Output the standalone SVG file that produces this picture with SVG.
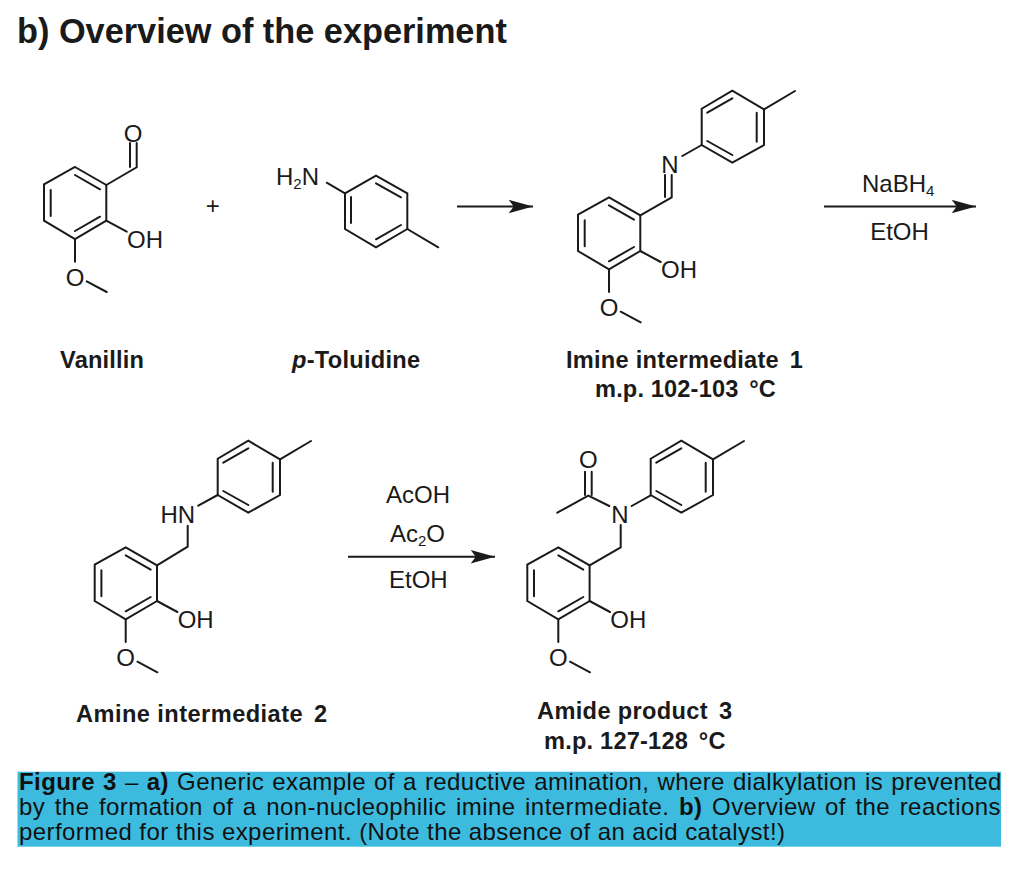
<svg xmlns="http://www.w3.org/2000/svg" xmlns:xlink="http://www.w3.org/1999/xlink" width="1024" height="877" viewBox="0 0 1024 877">
<style>
text{font-family:"Liberation Sans",Arial,sans-serif;fill:#1a1a1a}
.b{fill:none;stroke:#1a1a1a;stroke-width:2;stroke-linecap:round;stroke-linejoin:miter}
.a{font-size:24px}
.s{font-size:15px}
.l{font-size:23.6px;font-weight:bold}
.c{font-size:24px;fill:#111;letter-spacing:.43px}
.m{text-anchor:middle}
.arrow{fill:none;stroke:#1a1a1a;stroke-width:2}
</style>
<defs>
<marker id="head" markerUnits="userSpaceOnUse" markerWidth="26" markerHeight="14" refX="26" refY="7" orient="auto">
<path d="M26 7L1.7 .3L6.7 7L1.7 13.7Z" fill="#1a1a1a"/>
</marker>
<g id="guaiacol">
<path class="b" d="M75 167L106.3 185V220.7L75 239L44 220.7V184.3Z"/>
<path class="b" d="M75 175L100 189.3M100 216.7L75 231M50.7 190V216M106.3 220.7L126.7 231.7M75 239V261.7M86.7 281.4L106.7 292"/>
<text class="a" x="127" y="248">OH</text>
<text class="a m" x="75" y="285.5">O</text>
</g>
<g id="tolyl">
<path class="b" d="M701.7 145V108.7L732.3 90.7L764 109.3V145L732.3 162.7Z"/>
<path class="b" d="M707.3 112.7L732.3 98.3M756.7 112.7V141.7M707.3 141L732.3 155M764 109.3L795 91"/>
</g>
</defs>
<rect width="1024" height="877" fill="#fff"/>
<text id="title" x="17" y="42.5" font-size="34.3" font-weight="bold">b) Overview of the experiment</text>

<g id="vanillin">
<use xlink:href="#guaiacol" href="#guaiacol"/>
<path class="b" d="M106.3 185L136.7 167.3L136.7 143M130 167V143"/>
<text class="a m" x="133" y="141.5">O</text>
<text class="l m" x="102" y="368" textLength="84">Vanillin</text>
</g>
<text id="plus" class="a m" x="212.7" y="214">+</text>
<g id="p-toluidine">
<path class="b" d="M345 193.3V229L376 247.3L407.3 229V193.3L376 175.7Z"/>
<path class="b" d="M351 197V223M376 183.3L401 197.3M376 239.3L401 225M407.3 229L438.3 247.3M326.7 182.7L345 193.3"/>
<text class="a" x="276" y="185">H<tspan class="s" dy="4">2</tspan><tspan dy="-4">N</tspan></text>
<text class="l m" x="356" y="368" textLength="128"><tspan font-style="italic">p</tspan>-Toluidine</text>
</g>
<g id="imine">
<use xlink:href="#guaiacol" href="#guaiacol" x="534" y="30.3"/>
<use xlink:href="#tolyl" href="#tolyl"/>
<path class="b" d="M640.3 215.3L671.7 197.3V175M665 197V175M682.3 156L701.7 145"/>
<text class="a m" x="670" y="172.7">N</text>
<text class="l" x="566" y="368" letter-spacing=".25">Imine intermediate <tspan dx="4">1</tspan></text>
<text class="l" x="595" y="397" letter-spacing=".15">m.p. 102-103 <tspan dx="4">°C</tspan></text>
</g>
<g id="amine">
<use xlink:href="#guaiacol" href="#guaiacol" x="50.7" y="380.3"/>
<use xlink:href="#tolyl" href="#tolyl" x="-484" y="350"/>
<path class="b" d="M157 565.3L187.7 546.7V525.7M198.3 505.7L217.7 495"/>
<text class="a" x="160.5" y="523.3">HN</text>
<text class="l" x="76" y="722" letter-spacing=".45">Amine intermediate <tspan dx="4">2</tspan></text>
</g>
<g id="amide">
<use xlink:href="#guaiacol" href="#guaiacol" x="483.3" y="380.3"/>
<use xlink:href="#tolyl" href="#tolyl" x="-51" y="350"/>
<path class="b" d="M589.6 565.3L620.7 547.3V525M631.7 506L650.7 495.3M609.3 506L588.3 495.7L557.3 512.7M585 495V471.7M591.7 495V471.7"/>
<text class="a m" x="620" y="523.3">N</text>
<text class="a m" x="588.3" y="468.3">O</text>
<text class="l" x="537" y="719" letter-spacing=".35">Amide product <tspan dx="4">3</tspan></text>
<text class="l" x="544" y="749" letter-spacing=".2">m.p. 127-128 <tspan dx="4">°C</tspan></text>
</g>
<g id="connectors">
<path class="arrow" d="M457 206.5H533" marker-end="url(#head)"/>
<path class="arrow" d="M824 206.5H976" marker-end="url(#head)"/>
<path class="arrow" d="M348 556.7H495" marker-end="url(#head)"/>
</g>
<g id="reagents">
<text class="a" x="862" y="191.7">NaBH<tspan class="s" dy="4">4</tspan></text>
<text class="a m" x="899.5" y="240">EtOH</text>
<text class="a m" x="418" y="502.7">AcOH</text>
<text class="a" x="390" y="542.3">Ac<tspan class="s" dy="4">2</tspan><tspan dy="-4">O</tspan></text>
<text class="a m" x="418.3" y="588.3">EtOH</text>
</g>
<g id="caption">
<rect x="17.5" y="771.7" width="983.5" height="75" fill="#3dbbdf"/>
<text class="c" x="19" y="790" word-spacing="1"><tspan font-weight="bold">Figure 3</tspan> – <tspan font-weight="bold">a)</tspan> Generic example of a reductive amination, where dialkylation is prevented</text>
<text class="c" x="19" y="815" word-spacing="2.45">by the formation of a non-nucleophilic imine intermediate. <tspan font-weight="bold">b)</tspan> Overview of the reactions</text>
<text class="c" x="19" y="840">performed for this experiment. (Note the absence of an acid catalyst!)</text>
</g>
</svg>
